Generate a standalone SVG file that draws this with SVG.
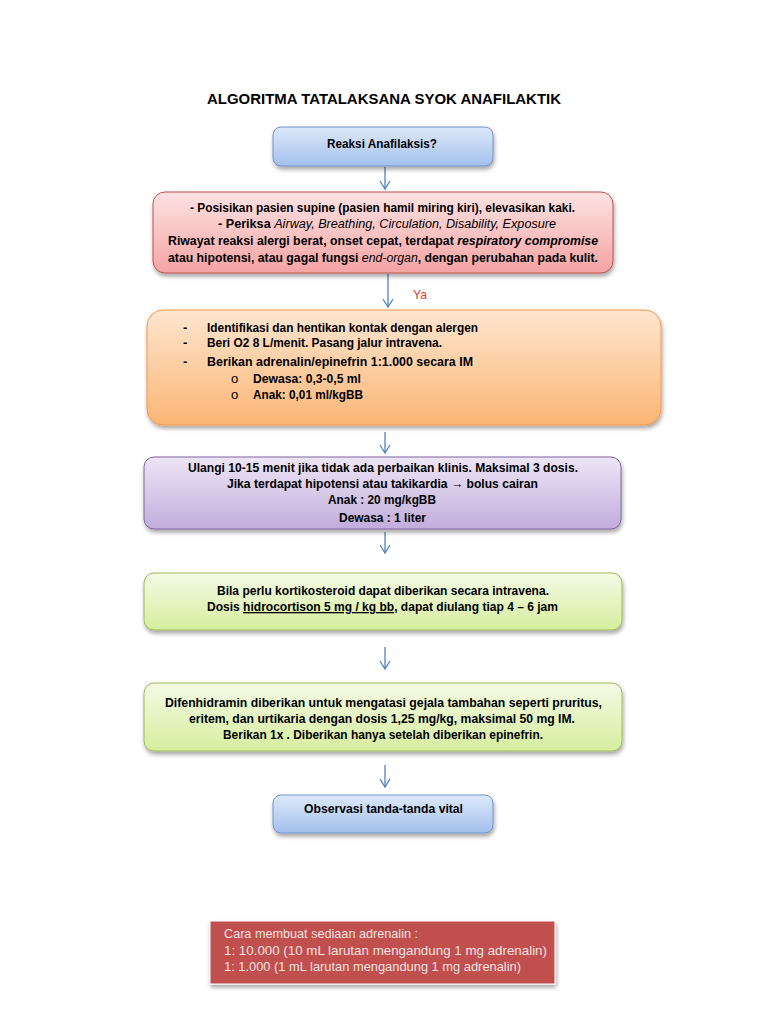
<svg xmlns="http://www.w3.org/2000/svg" width="768" height="1024" viewBox="0 0 768 1024">
<defs>
<linearGradient id="gBlue" x1="0" y1="0" x2="0" y2="1"><stop offset="0" stop-color="#dde9fa"/><stop offset="1" stop-color="#a3c0ec"/></linearGradient>
<linearGradient id="gRed" x1="0" y1="0" x2="0" y2="1"><stop offset="0" stop-color="#fde3e3"/><stop offset="1" stop-color="#f5a3a3"/></linearGradient>
<linearGradient id="gOrange" x1="0" y1="0" x2="0" y2="1"><stop offset="0" stop-color="#fee6d0"/><stop offset="1" stop-color="#fbb574"/></linearGradient>
<linearGradient id="gPurple" x1="0" y1="0" x2="0" y2="1"><stop offset="0" stop-color="#ede6f5"/><stop offset="1" stop-color="#c2acdc"/></linearGradient>
<linearGradient id="gGreen" x1="0" y1="0" x2="0" y2="1"><stop offset="0" stop-color="#f4fae5"/><stop offset="1" stop-color="#d6ee9e"/></linearGradient>
<filter id="sh" x="-10%" y="-20%" width="120%" height="150%"><feDropShadow dx="1" dy="3" stdDeviation="2" flood-color="#000" flood-opacity="0.35"/></filter>
<marker id="arr" markerWidth="10" markerHeight="12" refX="9" refY="6" orient="auto" markerUnits="userSpaceOnUse" viewBox="0 0 10 12">
<polyline points="1,1 9,6 1,11" fill="none" stroke="#4f81bd" stroke-width="1.3"/>
</marker>
</defs>
<style>
text{font-family:"Liberation Sans",Arial,sans-serif;font-size:13px;font-weight:bold;fill:#000}
.t{font-size:15px}
.s{font-size:12px}
.i{font-style:italic;font-weight:normal}
.bi{font-style:italic}
.w{fill:#f6e2e2;font-weight:normal}
.box{filter:url(#sh)}
.conn line{stroke:#4f81bd;stroke-width:1.3;marker-end:url(#arr)}
</style>
<rect width="768" height="1024" fill="#fff"/>
<text class="t" x="207" y="104" textLength="354" lengthAdjust="spacingAndGlyphs">ALGORITMA TATALAKSANA SYOK ANAFILAKTIK</text>

<g class="conn">
<line x1="385" y1="167" x2="385" y2="189"/>
<line x1="388" y1="274" x2="388" y2="307"/>
<line x1="385" y1="432" x2="385" y2="453"/>
<line x1="385" y1="532" x2="385" y2="553"/>
<line x1="385" y1="647" x2="385" y2="669"/>
<line x1="385" y1="765" x2="385" y2="787"/>
</g>
<text x="413" y="299" style="fill:#e03a2f;font-weight:normal" textLength="14" lengthAdjust="spacingAndGlyphs">Ya</text>

<g id="n1">
<rect class="box" x="273" y="127" width="220" height="39" rx="8" fill="url(#gBlue)" stroke="#6f93c8" stroke-width="1"/>
<text x="327" y="148" textLength="110" lengthAdjust="spacingAndGlyphs">Reaksi Anafilaksis?</text>
</g>

<g id="n2">
<rect class="box" x="153" y="192" width="460" height="81" rx="12" fill="url(#gRed)" stroke="#c0504d" stroke-width="1"/>
<text class="s" x="190" y="212" textLength="385" lengthAdjust="spacingAndGlyphs">- Posisikan pasien supine (pasien hamil miring kiri), elevasikan kaki.</text>
<text class="s" x="218" y="228" textLength="338" lengthAdjust="spacingAndGlyphs">- Periksa  <tspan class="i">Airway, Breathing, Circulation, Disability, Exposure</tspan></text>
<text class="s" x="168" y="245" textLength="430" lengthAdjust="spacingAndGlyphs">Riwayat reaksi alergi berat, onset cepat, terdapat <tspan class="bi">respiratory compromise</tspan></text>
<text class="s" x="168" y="262" textLength="430" lengthAdjust="spacingAndGlyphs">atau hipotensi, atau gagal fungsi <tspan class="i">end-organ</tspan>, dengan perubahan pada kulit.</text>
</g>

<g id="n3">
<rect class="box" x="147" y="310" width="514" height="115" rx="16" fill="url(#gOrange)" stroke="#f79646" stroke-width="1"/>
<text x="183" y="332">-</text>
<text x="207" y="332" textLength="271" lengthAdjust="spacingAndGlyphs">Identifikasi dan hentikan kontak dengan alergen</text>
<text x="183" y="347">-</text>
<text x="207" y="347" textLength="235" lengthAdjust="spacingAndGlyphs">Beri O2 8 L/menit. Pasang jalur intravena.</text>
<text x="183" y="366">-</text>
<text x="207" y="366" textLength="266" lengthAdjust="spacingAndGlyphs">Berikan adrenalin/epinefrin 1:1.000 secara IM</text>
<text x="231" y="383" style="font-weight:normal">o</text>
<text x="253" y="383" textLength="108" lengthAdjust="spacingAndGlyphs">Dewasa: 0,3-0,5 ml</text>
<text x="231" y="399" style="font-weight:normal">o</text>
<text x="253" y="399" textLength="110" lengthAdjust="spacingAndGlyphs">Anak: 0,01 ml/kgBB</text>
</g>

<g id="n4">
<rect class="box" x="144" y="457" width="477" height="72" rx="10" fill="url(#gPurple)" stroke="#8064a2" stroke-width="1"/>
<text x="188" y="472" textLength="390" lengthAdjust="spacingAndGlyphs">Ulangi 10-15 menit jika tidak ada perbaikan klinis. Maksimal 3 dosis.</text>
<text x="227" y="488" textLength="311" lengthAdjust="spacingAndGlyphs">Jika terdapat hipotensi atau takikardia → bolus cairan</text>
<text x="328" y="504" textLength="108" lengthAdjust="spacingAndGlyphs">Anak : 20 mg/kgBB</text>
<text x="339" y="522" textLength="87" lengthAdjust="spacingAndGlyphs">Dewasa : 1 liter</text>
</g>

<g id="n5">
<rect class="box" x="144" y="573" width="478" height="57" rx="10" fill="url(#gGreen)" stroke="#9bbb59" stroke-width="1"/>
<text x="217" y="595" textLength="332" lengthAdjust="spacingAndGlyphs">Bila perlu kortikosteroid dapat diberikan secara intravena.</text>
<text x="207" y="611" textLength="351" lengthAdjust="spacingAndGlyphs">Dosis <tspan text-decoration="underline">hidrocortison 5 mg / kg bb</tspan>, dapat diulang tiap 4 – 6 jam</text>
</g>

<g id="n6">
<rect class="box" x="144" y="683" width="478" height="68" rx="10" fill="url(#gGreen)" stroke="#9bbb59" stroke-width="1"/>
<text x="165" y="707" textLength="437" lengthAdjust="spacingAndGlyphs">Difenhidramin diberikan untuk mengatasi gejala tambahan seperti pruritus,</text>
<text x="189" y="723" textLength="386" lengthAdjust="spacingAndGlyphs">eritem, dan urtikaria dengan dosis 1,25 mg/kg, maksimal 50 mg IM.</text>
<text x="223" y="739" textLength="320" lengthAdjust="spacingAndGlyphs">Berikan 1x . Diberikan hanya setelah diberikan epinefrin.</text>
</g>

<g id="n7">
<rect class="box" x="273" y="795" width="220" height="38" rx="8" fill="url(#gBlue)" stroke="#6f93c8" stroke-width="1"/>
<text x="304" y="813" textLength="159" lengthAdjust="spacingAndGlyphs">Observasi tanda-tanda vital</text>
</g>

<g id="n8">
<rect class="box" x="210" y="921" width="345" height="63" fill="#c0504d" stroke="#fff" stroke-width="1"/>
<text class="w" x="224" y="938" textLength="194" lengthAdjust="spacingAndGlyphs">Cara membuat sediaan adrenalin :</text>
<text class="w" x="224" y="955" textLength="323" lengthAdjust="spacingAndGlyphs">1: 10.000 (10 mL larutan mengandung 1 mg adrenalin)</text>
<text class="w" x="224" y="971" textLength="297" lengthAdjust="spacingAndGlyphs">1: 1.000 (1 mL larutan mengandung 1 mg adrenalin)</text>
</g>
</svg>
